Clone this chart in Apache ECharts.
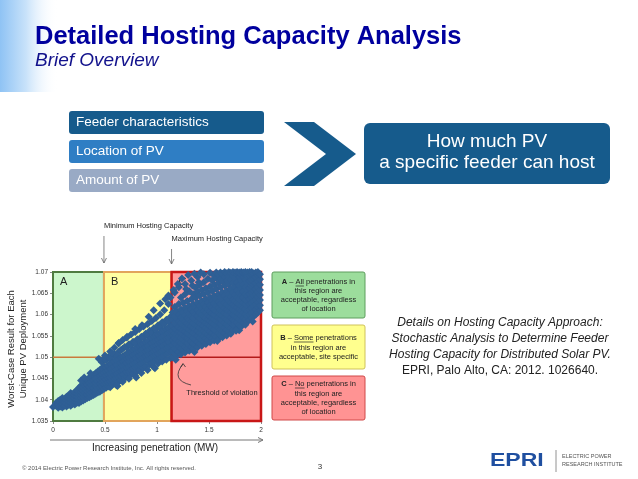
<!DOCTYPE html>
<html><head><meta charset="utf-8">
<script src="https://cdn.jsdelivr.net/npm/echarts/dist/echarts.min.js"></script>
<style>html,body{margin:0;padding:0;background:#fff}#c{width:638px;height:479px}</style>
</head><body><div id="c"></div>
<script>
// ---------------- data ----------------
const xRange = [0, 2];
const yRange = [1.035, 1.07];
const yInterval = 0.005;
const xInterval = 0.5;
const regionEdges = [0, 0.49, 1.14, 2];
const regionNames = ['A', 'B', 'C'];
const threshold = 1.05;

// columns of points: [x, [y values]]
const zoneA = [
  [0.00,[1.0383]],
  [0.03,[1.0386,1.0392]],
  [0.05,[1.0381,1.0389,1.0397]],
  [0.07,[1.0384,1.0392,1.0400]],
  [0.09,[1.0382,1.0390,1.0398,1.0404]],
  [0.11,[1.0386,1.0394,1.0401]],
  [0.13,[1.0384,1.0391,1.0399,1.0407]],
  [0.15,[1.0388,1.0396,1.0403,1.0410]],
  [0.17,[1.0386,1.0393,1.0401,1.0408,1.0416]],
  [0.19,[1.0390,1.0398,1.0405,1.0413]],
  [0.21,[1.0389,1.0396,1.0404,1.0411,1.0418]],
  [0.23,[1.0393,1.0400,1.0408,1.0415,1.0422]],
  [0.25,[1.0392,1.0399,1.0406,1.0413,1.0420,1.0428]],
  [0.27,[1.0396,1.0404,1.0411,1.0418,1.0425,1.0433]],
  [0.29,[1.0398,1.0406,1.0414,1.0421,1.0429,1.0438]],
  [0.31,[1.0401,1.0409,1.0417,1.0424,1.0432,1.0441]],
  [0.33,[1.0404,1.0412,1.0420,1.0428,1.0436,1.0447]],
  [0.35,[1.0406,1.0414,1.0422,1.0430,1.0439,1.0452]],
  [0.37,[1.0409,1.0417,1.0425,1.0434,1.0443,1.0455]],
  [0.39,[1.0411,1.0420,1.0428,1.0437,1.0446,1.0458]],
  [0.41,[1.0414,1.0423,1.0432,1.0440,1.0449,1.0462]],
  [0.43,[1.0417,1.0426,1.0435,1.0444,1.0453,1.0466]],
  [0.45,[1.0419,1.0429,1.0438,1.0447,1.0457,1.0470]],
  [0.47,[1.0422,1.0432,1.0441,1.0450,1.0460,1.0474,1.0488]]
];
const zoneB = [
  [0.49,[1.0425,1.0435,1.0444,1.0453,1.0463,1.0478,1.0497]],
  [0.51,[1.0428,1.0438,1.0447,1.0456,1.0466,1.0476,1.0492]],
  [0.53,[1.0431,1.0441,1.0450,1.0459,1.0469,1.0480,1.0500]],
  [0.55,[1.0429,1.0443,1.0452,1.0462,1.0472,1.0484,1.0497,1.0513]],
  [0.57,[1.0436,1.0446,1.0455,1.0465,1.0475,1.0487,1.0503]],
  [0.59,[1.0438,1.0449,1.0458,1.0468,1.0478,1.0490,1.0507,1.0522]],
  [0.61,[1.0434,1.0451,1.0461,1.0471,1.0481,1.0493,1.0505]],
  [0.63,[1.0443,1.0454,1.0464,1.0474,1.0484,1.0496,1.0512,1.0532]],
  [0.65,[1.0446,1.0456,1.0467,1.0477,1.0487,1.0499,1.0516]],
  [0.67,[1.0442,1.0459,1.0470,1.0480,1.0490,1.0502,1.0520,1.0540]],
  [0.69,[1.0451,1.0462,1.0472,1.0483,1.0493,1.0505,1.0524]],
  [0.71,[1.0454,1.0465,1.0475,1.0486,1.0496,1.0508,1.0522,1.0546]],
  [0.73,[1.0449,1.0467,1.0478,1.0489,1.0499,1.0511,1.0530]],
  [0.75,[1.0459,1.0470,1.0481,1.0492,1.0502,1.0514,1.0528,1.0553]],
  [0.77,[1.0462,1.0473,1.0484,1.0495,1.0505,1.0517,1.0536]],
  [0.79,[1.0456,1.0476,1.0487,1.0498,1.0508,1.0520,1.0534,1.0559]],
  [0.81,[1.0467,1.0479,1.0490,1.0501,1.0511,1.0523,1.0542]],
  [0.83,[1.0470,1.0482,1.0493,1.0504,1.0514,1.0526,1.0540,1.0566]],
  [0.85,[1.0463,1.0485,1.0496,1.0507,1.0517,1.0529,1.0548]],
  [0.87,[1.0475,1.0488,1.0499,1.0510,1.0520,1.0532,1.0546,1.0572]],
  [0.89,[1.0478,1.0491,1.0502,1.0513,1.0523,1.0535,1.0555]],
  [0.91,[1.0470,1.0494,1.0505,1.0516,1.0526,1.0538,1.0552,1.0578]],
  [0.93,[1.0483,1.0497,1.0508,1.0519,1.0530,1.0542,1.0562]],
  [0.95,[1.0486,1.0500,1.0511,1.0522,1.0533,1.0545,1.0558,1.0585]],
  [0.97,[1.0477,1.0489,1.0503,1.0514,1.0525,1.0536,1.0548,1.0568]],
  [0.99,[1.0492,1.0506,1.0517,1.0528,1.0539,1.0551,1.0565,1.0592]],
  [1.01,[1.0485,1.0495,1.0509,1.0520,1.0531,1.0542,1.0554,1.0575]],
  [1.03,[1.0498,1.0512,1.0523,1.0534,1.0545,1.0557,1.0571,1.0600]],
  [1.05,[1.0490,1.0501,1.0515,1.0526,1.0537,1.0548,1.0560,1.0582]],
  [1.07,[1.0504,1.0518,1.0529,1.0540,1.0551,1.0563,1.0578,1.0610]],
  [1.09,[1.0494,1.0507,1.0521,1.0532,1.0543,1.0554,1.0566,1.0588]],
  [1.11,[1.0510,1.0524,1.0535,1.0546,1.0557,1.0569,1.0584,1.0625]],
  [1.13,[1.0498,1.0513,1.0527,1.0538,1.0549,1.0560,1.0572,1.0595,1.0640]]
];
const zoneC = [
  [1.15,[1.0500,1.0515,1.0528,1.0540,1.0551,1.0562,1.0574,1.0588,1.0605]],
  [1.17,[1.0508,1.0520,1.0533,1.0545,1.0556,1.0567,1.0580,1.0596,1.0618,1.0652]],
  [1.19,[1.0503,1.0517,1.0530,1.0542,1.0553,1.0564,1.0576,1.0590,1.0608]],
  [1.21,[1.0512,1.0525,1.0537,1.0549,1.0560,1.0571,1.0584,1.0600,1.0625,1.0664]],
  [1.23,[1.0507,1.0520,1.0533,1.0545,1.0557,1.0568,1.0580,1.0594,1.0612,1.0640]],
  [1.25,[1.0516,1.0529,1.0541,1.0553,1.0564,1.0575,1.0588,1.0604,1.0628]],
  [1.27,[1.0511,1.0524,1.0537,1.0549,1.0561,1.0572,1.0584,1.0598,1.0616,1.0648,1.0672]],
  [1.29,[1.0520,1.0533,1.0545,1.0557,1.0568,1.0579,1.0592,1.0608,1.0632]],
  [1.31,[1.0515,1.0528,1.0541,1.0553,1.0565,1.0576,1.0588,1.0602,1.0620,1.0655]],
  [1.33,[1.0524,1.0537,1.0549,1.0561,1.0572,1.0583,1.0596,1.0612,1.0636,1.0680]],
  [1.35,[1.0519,1.0532,1.0545,1.0557,1.0569,1.0580,1.0592,1.0606,1.0624,1.0648]],
  [1.37,[1.0528,1.0541,1.0553,1.0565,1.0576,1.0587,1.0600,1.0616,1.0640,1.0663]],
  [1.39,[1.0523,1.0536,1.0549,1.0561,1.0573,1.0584,1.0596,1.0610,1.0628,1.0654,1.0688]],
  [1.41,[1.0532,1.0545,1.0557,1.0569,1.0580,1.0591,1.0604,1.0620,1.0644,1.0670]],
  [1.43,[1.0527,1.0540,1.0553,1.0565,1.0577,1.0588,1.0600,1.0614,1.0632,1.0658]],
  [1.45,[1.0536,1.0549,1.0561,1.0573,1.0584,1.0595,1.0608,1.0624,1.0648,1.0676,1.0695]],
  [1.47,[1.0531,1.0544,1.0557,1.0569,1.0581,1.0592,1.0604,1.0618,1.0636,1.0662]],
  [1.49,[1.0540,1.0553,1.0565,1.0577,1.0588,1.0599,1.0612,1.0628,1.0652,1.0684]],
  [1.51,[1.0535,1.0548,1.0561,1.0573,1.0585,1.0596,1.0608,1.0622,1.0640,1.0666,1.0698]],
  [1.53,[1.0544,1.0557,1.0569,1.0581,1.0592,1.0603,1.0616,1.0632,1.0656,1.0680]],
  [1.55,[1.0539,1.0552,1.0565,1.0577,1.0589,1.0600,1.0612,1.0626,1.0644,1.0670,1.0692]],
  [1.57,[1.0548,1.0561,1.0573,1.0585,1.0596,1.0607,1.0620,1.0636,1.0660,1.0686,1.0699]],
  [1.59,[1.0543,1.0556,1.0569,1.0581,1.0593,1.0604,1.0616,1.0630,1.0648,1.0674,1.0694]],
  [1.61,[1.0552,1.0565,1.0577,1.0589,1.0600,1.0611,1.0624,1.0640,1.0664,1.0684,1.0699]],
  [1.63,[1.0547,1.0560,1.0573,1.0585,1.0597,1.0608,1.0620,1.0634,1.0652,1.0678,1.0696]],
  [1.65,[1.0556,1.0569,1.0581,1.0593,1.0604,1.0615,1.0628,1.0644,1.0668,1.0688,1.0700]],
  [1.67,[1.0551,1.0564,1.0577,1.0589,1.0601,1.0612,1.0624,1.0638,1.0656,1.0680,1.0697]],
  [1.69,[1.0560,1.0573,1.0585,1.0597,1.0608,1.0619,1.0632,1.0648,1.0670,1.0690,1.0700]],
  [1.71,[1.0555,1.0568,1.0581,1.0593,1.0605,1.0616,1.0628,1.0642,1.0660,1.0682,1.0698]],
  [1.73,[1.0564,1.0577,1.0589,1.0601,1.0612,1.0623,1.0636,1.0652,1.0674,1.0692,1.0700]],
  [1.75,[1.0578,1.0572,1.0585,1.0597,1.0609,1.0620,1.0632,1.0646,1.0664,1.0685,1.0699]],
  [1.77,[1.0568,1.0581,1.0593,1.0605,1.0616,1.0627,1.0640,1.0656,1.0676,1.0694,1.0700]],
  [1.79,[1.0563,1.0576,1.0589,1.0601,1.0613,1.0624,1.0636,1.0650,1.0668,1.0688,1.0699]],
  [1.81,[1.0572,1.0585,1.0597,1.0609,1.0620,1.0631,1.0644,1.0660,1.0680,1.0695,1.0700]],
  [1.83,[1.0580,1.0592,1.0604,1.0616,1.0628,1.0640,1.0654,1.0670,1.0688,1.0699]],
  [1.85,[1.0576,1.0589,1.0601,1.0613,1.0624,1.0635,1.0648,1.0664,1.0682,1.0696,1.0700]],
  [1.87,[1.0584,1.0596,1.0608,1.0620,1.0632,1.0644,1.0658,1.0674,1.0690,1.0699]],
  [1.89,[1.0588,1.0600,1.0612,1.0624,1.0636,1.0648,1.0662,1.0678,1.0692,1.0700]],
  [1.91,[1.0592,1.0604,1.0616,1.0628,1.0640,1.0652,1.0666,1.0682,1.0695,1.0700]],
  [1.93,[1.0596,1.0608,1.0620,1.0632,1.0644,1.0656,1.0670,1.0685,1.0697]],
  [1.95,[1.0600,1.0612,1.0624,1.0636,1.0648,1.0660,1.0674,1.0688,1.0699]],
  [1.97,[1.0605,1.0617,1.0629,1.0641,1.0653,1.0665,1.0678,1.0691,1.0700]],
  [1.99,[1.0610,1.0622,1.0634,1.0646,1.0658,1.0670,1.0683,1.0695]]
];
const upperStreak = [[0.27,1.0445],[0.30,1.0452],[0.36,1.0462],[0.44,1.0496],[0.50,1.0504],[0.567,1.0510],[0.631,1.0533],[0.712,1.0548],[0.79,1.0566],[0.856,1.0575],[0.92,1.0595],[0.968,1.0610],[1.03,1.0626],[1.08,1.0636],[1.11,1.0645],[1.16,1.0658],[1.20,1.0672],[1.24,1.0685],[1.28,1.0660],[1.30,1.0693],[1.34,1.0668],[1.36,1.0696],[1.40,1.0676],[1.42,1.0699]];
const lowerOutliers = [[0.62,1.0432],[0.80,1.0452],[0.98,1.0474],[1.18,1.0494],[1.36,1.0512],[1.58,1.0538],[1.76,1.0562],[1.92,1.0584]];

// ---------------- styles ----------------
const FONT = '"Liberation Sans", Arial, sans-serif';
const regionFill = ['#CCF6CC', '#FFFFA2', '#FF9C9C'];
const regionStroke = ['#4F7B40', '#E2A55C', '#C81616'];
const regionLineW = [2, 2, 2.5];
const pointColor = '#2F5F95';

const points = [];
[zoneA, zoneB, zoneC].forEach(z => z.forEach(([x, ys]) => ys.forEach(y => points.push([x, y]))));
upperStreak.forEach(p => points.push(p));
lowerOutliers.forEach(p => points.push(p));

const regionData = regionNames.map((n, i) => [regionEdges[i], regionEdges[i + 1], i]);

function renderRegion(params, api) {
  const i = api.value(2);
  const tl = api.coord([api.value(0), yRange[1]]);
  const br = api.coord([api.value(1), yRange[0]]);
  return {
    type: 'group', children: [
      { type: 'rect', shape: { x: tl[0], y: tl[1], width: br[0] - tl[0], height: br[1] - tl[1] },
        style: { fill: regionFill[i], stroke: regionStroke[i], lineWidth: regionLineW[i] } },
      { type: 'text', style: { text: regionNames[i], x: tl[0] + 7, y: tl[1] + 10, fill: '#222',
        font: '11px ' + FONT, textAlign: 'left', align: 'left', textVerticalAlign: 'middle', verticalAlign: 'middle' } }
    ]
  };
}

function txt(x, y, text, size, o) {
  o = o || {};
  return { type: 'text', x: x, y: y, silent: true, z: 10, scaleX: o.sx || 1, rotation: o.rot || 0,
    style: { text: text, fontSize: size, fontFamily: FONT, fontWeight: o.w || 'normal',
      fontStyle: o.i ? 'italic' : 'normal', fill: o.c || '#222',
      textAlign: o.a || 'left', align: o.a || 'left', textVerticalAlign: 'middle', verticalAlign: 'middle',
      rich: o.rich } };
}
function rect(x, y, w, h, fill, o) {
  o = o || {};
  return { type: 'rect', silent: true, z: 5, shape: { x: x, y: y, width: w, height: h, r: o.r || 0 },
    style: { fill: fill, stroke: o.stroke || null, lineWidth: o.lw || 0 } };
}
function line(x1, y1, x2, y2, color, w) {
  return { type: 'line', silent: true, z: 10, shape: { x1: x1, y1: y1, x2: x2, y2: y2 },
    style: { stroke: color, lineWidth: w || 1 } };
}
function poly(pts, color, w) {
  return { type: 'polyline', silent: true, z: 10, shape: { points: pts }, style: { stroke: color, lineWidth: w || 1, fill: null } };
}

const mctx = document.createElement('canvas').getContext('2d');
function tw(text, size, weight) { mctx.font = (weight || 'normal') + ' ' + size + 'px ' + FONT; return mctx.measureText(text).width; }

function legendBox(x, y, w, h, fill, stroke, lines, lineY, letter, uWord, rest0) {
  const els = [rect(x, y, w, h, fill, { r: 2, stroke: stroke, lw: 1 })];
  const cx = x + w / 2, fs = 7.5;
  const first = '{b|' + letter + '} – ' + uWord + rest0;
  els.push(txt(cx, lineY[0], first, fs, { a: 'center', rich: { b: { fontWeight: 'bold', fontSize: fs, fontFamily: FONT, fill: '#222' } } }));
  const total = tw(letter, fs, 'bold') + tw(' – ' + uWord + rest0, fs);
  const ux0 = cx - total / 2 + tw(letter, fs, 'bold') + tw(' – ', fs);
  const ux1 = ux0 + tw(uWord, fs);
  els.push(line(ux0, lineY[0] + 4, ux1, lineY[0] + 4, '#222', 0.7));
  for (let k = 0; k < lines.length; k++) els.push(txt(cx, lineY[k + 1], lines[k], fs, { a: 'center' }));
  return els;
}

const chart = echarts.init(document.getElementById('c'), null, { renderer: 'canvas' });

const staticGraphics = [
  { type: 'rect', silent: true, z: 1, shape: { x: 0, y: 0, width: 58, height: 92 },
    style: { fill: { type: 'linear', x: 0, y: 0, x2: 1, y2: 0, colorStops: [{ offset: 0, color: '#8FC3F4' }, { offset: 0.45, color: '#C8E2FA' }, { offset: 1, color: 'rgba(255,255,255,0)' }] } } },
  txt(35, 37, 'Detailed Hosting Capacity Analysis', 25.5, { w: 'bold', c: '#00009E' }),
  txt(35, 61, 'Brief Overview', 19, { i: true, c: '#12128C' }),
  rect(69, 111, 195, 23, '#165B8C', { r: 3 }),
  rect(69, 140, 195, 23, '#2F7EC4', { r: 3 }),
  rect(69, 169, 195, 23, '#99AAC5', { r: 3 }),
  txt(76, 122.5, 'Feeder characteristics', 13.5, { c: '#fff' }),
  txt(76, 151.5, 'Location of PV', 13.5, { c: '#fff' }),
  txt(76, 180.5, 'Amount of PV', 13.5, { c: '#fff' }),
  { type: 'polygon', silent: true, z: 5, shape: { points: [[284, 122], [314, 122], [356, 154], [314, 186], [284, 186], [326, 154]] }, style: { fill: '#165B8C' } },
  rect(364, 123, 246, 61, '#165B8C', { r: 6 }),
  txt(487, 142, 'How much PV', 19, { a: 'center', c: '#fff' }),
  txt(487, 163, 'a specific feeder can host', 19, { a: 'center', c: '#fff' }),
  txt(11, 349, 'Worst-Case Result for Each', 9.5, { a: 'center', rot: Math.PI / 2 }),
  txt(23, 349, 'Unique PV Deployment', 9.5, { a: 'center', rot: Math.PI / 2 }),
  line(50, 440, 263, 440, '#777', 1),
  poly([[258, 437.5], [263, 440], [258, 442.5]], '#777', 1),
  txt(155, 448, 'Increasing penetration (MW)', 10, { a: 'center' }),
  txt(222, 393, 'Threshold of violation', 7.5, { a: 'center' }),
  { type: 'bezierCurve', silent: true, z: 10, shape: { x1: 191, y1: 385, cpx1: 170, cpy1: 380, x2: 183, y2: 364 }, style: { stroke: '#333', lineWidth: 0.8, fill: null } },
  poly([[180.5, 367.5], [183, 363.5], [185.5, 367]], '#333', 0.8),
  txt(500, 323, 'Details on Hosting Capacity Approach:', 12, { a: 'center', i: true }),
  txt(500, 339, 'Stochastic Analysis to Determine Feeder', 12, { a: 'center', i: true }),
  txt(500, 355, 'Hosting Capacity for Distributed Solar PV.', 12, { a: 'center', i: true }),
  txt(500, 371, 'EPRI, Palo Alto, CA: 2012. 1026640.', 12, { a: 'center' }),
  txt(22, 468, '© 2014 Electric Power Research Institute, Inc. All rights reserved.', 6, { c: '#555' }),
  txt(320, 467, '3', 8, { a: 'center', c: '#333' }),
  txt(490, 461, 'EPRI', 18, { w: 'bold', c: '#1F4FA0', sx: 1.28 }),
  line(556, 450, 556, 472, '#777', 0.8),
  txt(562, 456, 'ELECTRIC POWER', 5.5, { c: '#555' }),
  txt(562, 464, 'RESEARCH INSTITUTE', 5.5, { c: '#555' })
].concat(
  legendBox(272, 272, 93, 46, '#9CDD9C', '#5E9E5E', ['this region are', 'acceptable, regardless', 'of location'], [282, 291, 300, 309], 'A', 'All', ' penetrations in'),
  legendBox(272, 325, 93, 44, '#FFFF8E', '#CFC25A', ['in this region are', 'acceptable, site specific'], [338, 348, 357], 'B', 'Some', ' penetrations'),
  legendBox(272, 376, 93, 44, '#FF9393', '#D04848', ['this region are', 'acceptable, regardless', 'of location'], [384, 394, 403, 412], 'C', 'No', ' penetrations in')
);

const option = {
  animation: false,
  backgroundColor: '#fff',
  grid: { left: 53, top: 272, width: 208, height: 149 },
  xAxis: { type: 'value', min: xRange[0], max: xRange[1], interval: xInterval,
    axisLine: { show: false }, splitLine: { show: false },
    axisTick: { show: true, length: 3, lineStyle: { color: '#888' } },
    axisLabel: { fontSize: 6.5, color: '#333', fontFamily: FONT, margin: 6 } },
  yAxis: { type: 'value', min: yRange[0], max: yRange[1], interval: yInterval,
    axisLine: { show: false }, splitLine: { show: false },
    axisTick: { show: true, length: 3, lineStyle: { color: '#888' } },
    axisLabel: { fontSize: 6.5, color: '#333', fontFamily: FONT, margin: 5,
      formatter: v => String(parseFloat(v.toFixed(3))) } },
  series: [
    { type: 'custom', z: 1, silent: true, clip: false, renderItem: renderRegion, data: regionData },
    { type: 'line', z: 2, silent: true, symbol: 'none', lineStyle: { color: '#C97A3C', width: 1.5 },
      data: [[regionEdges[0], threshold], [regionEdges[2], threshold]] },
    { type: 'line', z: 2, silent: true, symbol: 'none', lineStyle: { color: '#B41A1A', width: 1.5 },
      data: [[regionEdges[2], threshold], [regionEdges[3], threshold]] },
    { type: 'scatter', z: 3, silent: true, clip: false, symbol: 'diamond', symbolSize: 8,
      itemStyle: { color: pointColor, opacity: 1 }, data: points }
  ],
  graphic: staticGraphics
};
chart.setOption(option);

const pMin = chart.convertToPixel({ gridIndex: 0 }, [regionEdges[1], yRange[1]]);
const pMax = chart.convertToPixel({ gridIndex: 0 }, [regionEdges[2], yRange[1]]);
const ann = [
  txt(pMin[0], 226, 'Minimum Hosting Capacity', 7.5, {}),
  line(pMin[0], 236, pMin[0], pMin[1] - 9, '#666', 0.8),
  poly([[pMin[0] - 2.5, pMin[1] - 14], [pMin[0], pMin[1] - 9], [pMin[0] + 2.5, pMin[1] - 14]], '#666', 0.8),
  txt(pMax[0], 239, 'Maximum Hosting Capacity', 7.5, {}),
  line(pMax[0], 249, pMax[0], pMax[1] - 8, '#666', 0.8),
  poly([[pMax[0] - 2.5, pMax[1] - 13], [pMax[0], pMax[1] - 8], [pMax[0] + 2.5, pMax[1] - 13]], '#666', 0.8)
];
chart.setOption({ graphic: staticGraphics.concat(ann) });
</script>
</body></html>
